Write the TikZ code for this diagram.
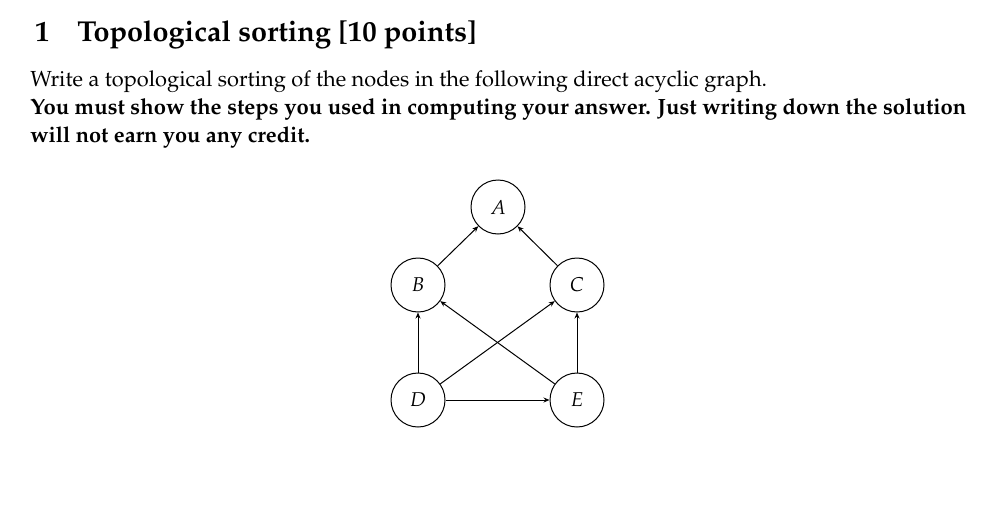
\documentclass[tikz,border=0pt]{standalone}
\usepackage[T1]{fontenc}
\usepackage{mathpazo}
\usepackage{graphicx}
\usetikzlibrary{arrows.meta}
\begin{document}
\begin{tikzpicture}[x=0.5pt,y=-0.5pt,
  vert/.style={circle,draw,line width=0.5pt,minimum size=27pt,inner sep=0pt,font=\fontsize{10}{11}\selectfont},
  edge/.style={-{Stealth[length=3pt,width=2.5pt]},line width=0.5pt}]
\useasboundingbox (0,0) rectangle (983,508);
\node[anchor=base west,font=\fontsize{14.4}{16}\selectfont\bfseries] (h) at (28,42) {1\hspace{14pt}Topological sorting [10 points]};
\node[anchor=north west,inner sep=0pt,align=left,font=\fontsize{10.9}{14}\selectfont] (t) at (30,70)
{Write a topological sorting of the nodes in the following direct acyclic graph.\\
\resizebox{468pt}{!}{\bfseries You must show the steps you used in computing your answer. Just writing down the solution}\\
\textbf{will not earn you any credit.}};
\node[vert] (A) at (498,207) {$A$};
\node[vert] (B) at (418,285) {$B$};
\node[vert] (C) at (577,285) {$C$};
\node[vert] (D) at (418,400) {$D$};
\node[vert] (E) at (577,400) {$E$};
\draw[edge] (B) -- (A);
\draw[edge] (C) -- (A);
\draw[edge] (D) -- (B);
\draw[edge] (E) -- (C);
\draw[edge] (D) -- (C);
\draw[edge] (E) -- (B);
\draw[edge] (D) -- (E);
\end{tikzpicture}
\end{document}
